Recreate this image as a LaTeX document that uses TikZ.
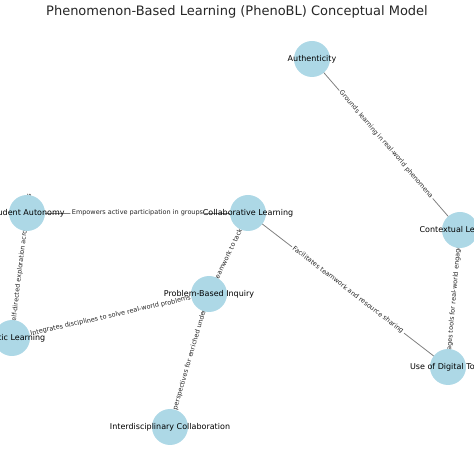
\documentclass[tikz,border=0pt]{standalone}
\usepackage{fontspec}
\setmainfont{DejaVu Sans}
\definecolor{nodeblue}{HTML}{ADD8E6}
\definecolor{linkgray}{HTML}{808080}
\pgfdeclarelayer{edgelayer}
\pgfdeclarelayer{labellayer}
\pgfsetlayers{edgelayer,labellayer,main}
\begin{document}
\begin{tikzpicture}[x=1pt,y=1pt,
  concept/.style={circle, fill=nodeblue, draw=none, minimum size=36pt, inner sep=0pt},
  conceptname/.style={font=\fontsize{8}{9}\selectfont, text=black, inner sep=0pt},
  link/.style={draw=linkgray, line width=0.8pt},
  linklabel/.style={sloped, pos=0.5, fill=white, inner sep=1.6pt, rounded corners=1.5pt,
    font=\fontsize{6.5}{7}\selectfont, text=black!85}]
\useasboundingbox (0,0) rectangle (474,474);
\clip (0,0) rectangle (474,474);
\node[font=\fontsize{13}{15}\selectfont, text=black!85] (title) at (237,462) {Phenomenon-Based Learning (PhenoBL) Conceptual Model};
% concept nodes
\node[concept, label={[conceptname]center:Authenticity}] (auth) at (312,415) {};
\node[concept, label={[conceptname]center:Student Autonomy}] (sa) at (27,261) {};
\node[concept, label={[conceptname]center:Collaborative Learning}] (cl) at (248,261) {};
\node[concept, label={[conceptname]center:Contextual Learning}] (cx) at (460,244) {};
\node[concept, label={[conceptname]center:Problem-Based Inquiry}] (pbi) at (209,180) {};
\node[concept, label={[conceptname]center:Holistic Learning}] (hl) at (12,136) {};
\node[concept, label={[conceptname]center:Interdisciplinary Collaboration}] (ic) at (170,47) {};
\node[concept, label={[conceptname]center:Use of Digital Tools}] (dt) at (448,107) {};
% connectors
\begin{pgfonlayer}{edgelayer}
\draw[link] (auth.center) -- (cx.center);
\draw[link] (sa.center) -- (cl.center);
\draw[link] (sa.center) -- (hl.center);
\draw[link] (cl.center) -- (pbi.center);
\draw[link] (cl.center) -- (dt.center);
\draw[link] (cx.center) -- (dt.center);
\draw[link] (pbi.center) -- (hl.center);
\draw[link] (pbi.center) -- (ic.center);
\end{pgfonlayer}
\begin{pgfonlayer}{labellayer}
\path (auth.center) -- node[linklabel] (l1) {Grounds learning in real-world phenomena} (cx.center);
\path (sa.center) -- node[linklabel] (l2) {Empowers active participation in groups} (cl.center);
\path (sa.center) -- node[linklabel] (l3) {Promotes self-directed exploration across subjects} (hl.center);
\path (cl.center) -- node[linklabel] (l4) {Fosters teamwork to tackle issues} (pbi.center);
\path (cl.center) -- node[linklabel] (l5) {Facilitates teamwork and resource sharing} (dt.center);
\path (cx.center) -- node[linklabel] (l6) {Leverages tools for real-world engagement} (dt.center);
\path (pbi.center) -- node[linklabel] (l7) {Integrates disciplines to solve real-world problems} (hl.center);
\path (pbi.center) -- node[linklabel] (l8) {Provides perspectives for enriched understanding} (ic.center);
\end{pgfonlayer}
\end{tikzpicture}
\end{document}
